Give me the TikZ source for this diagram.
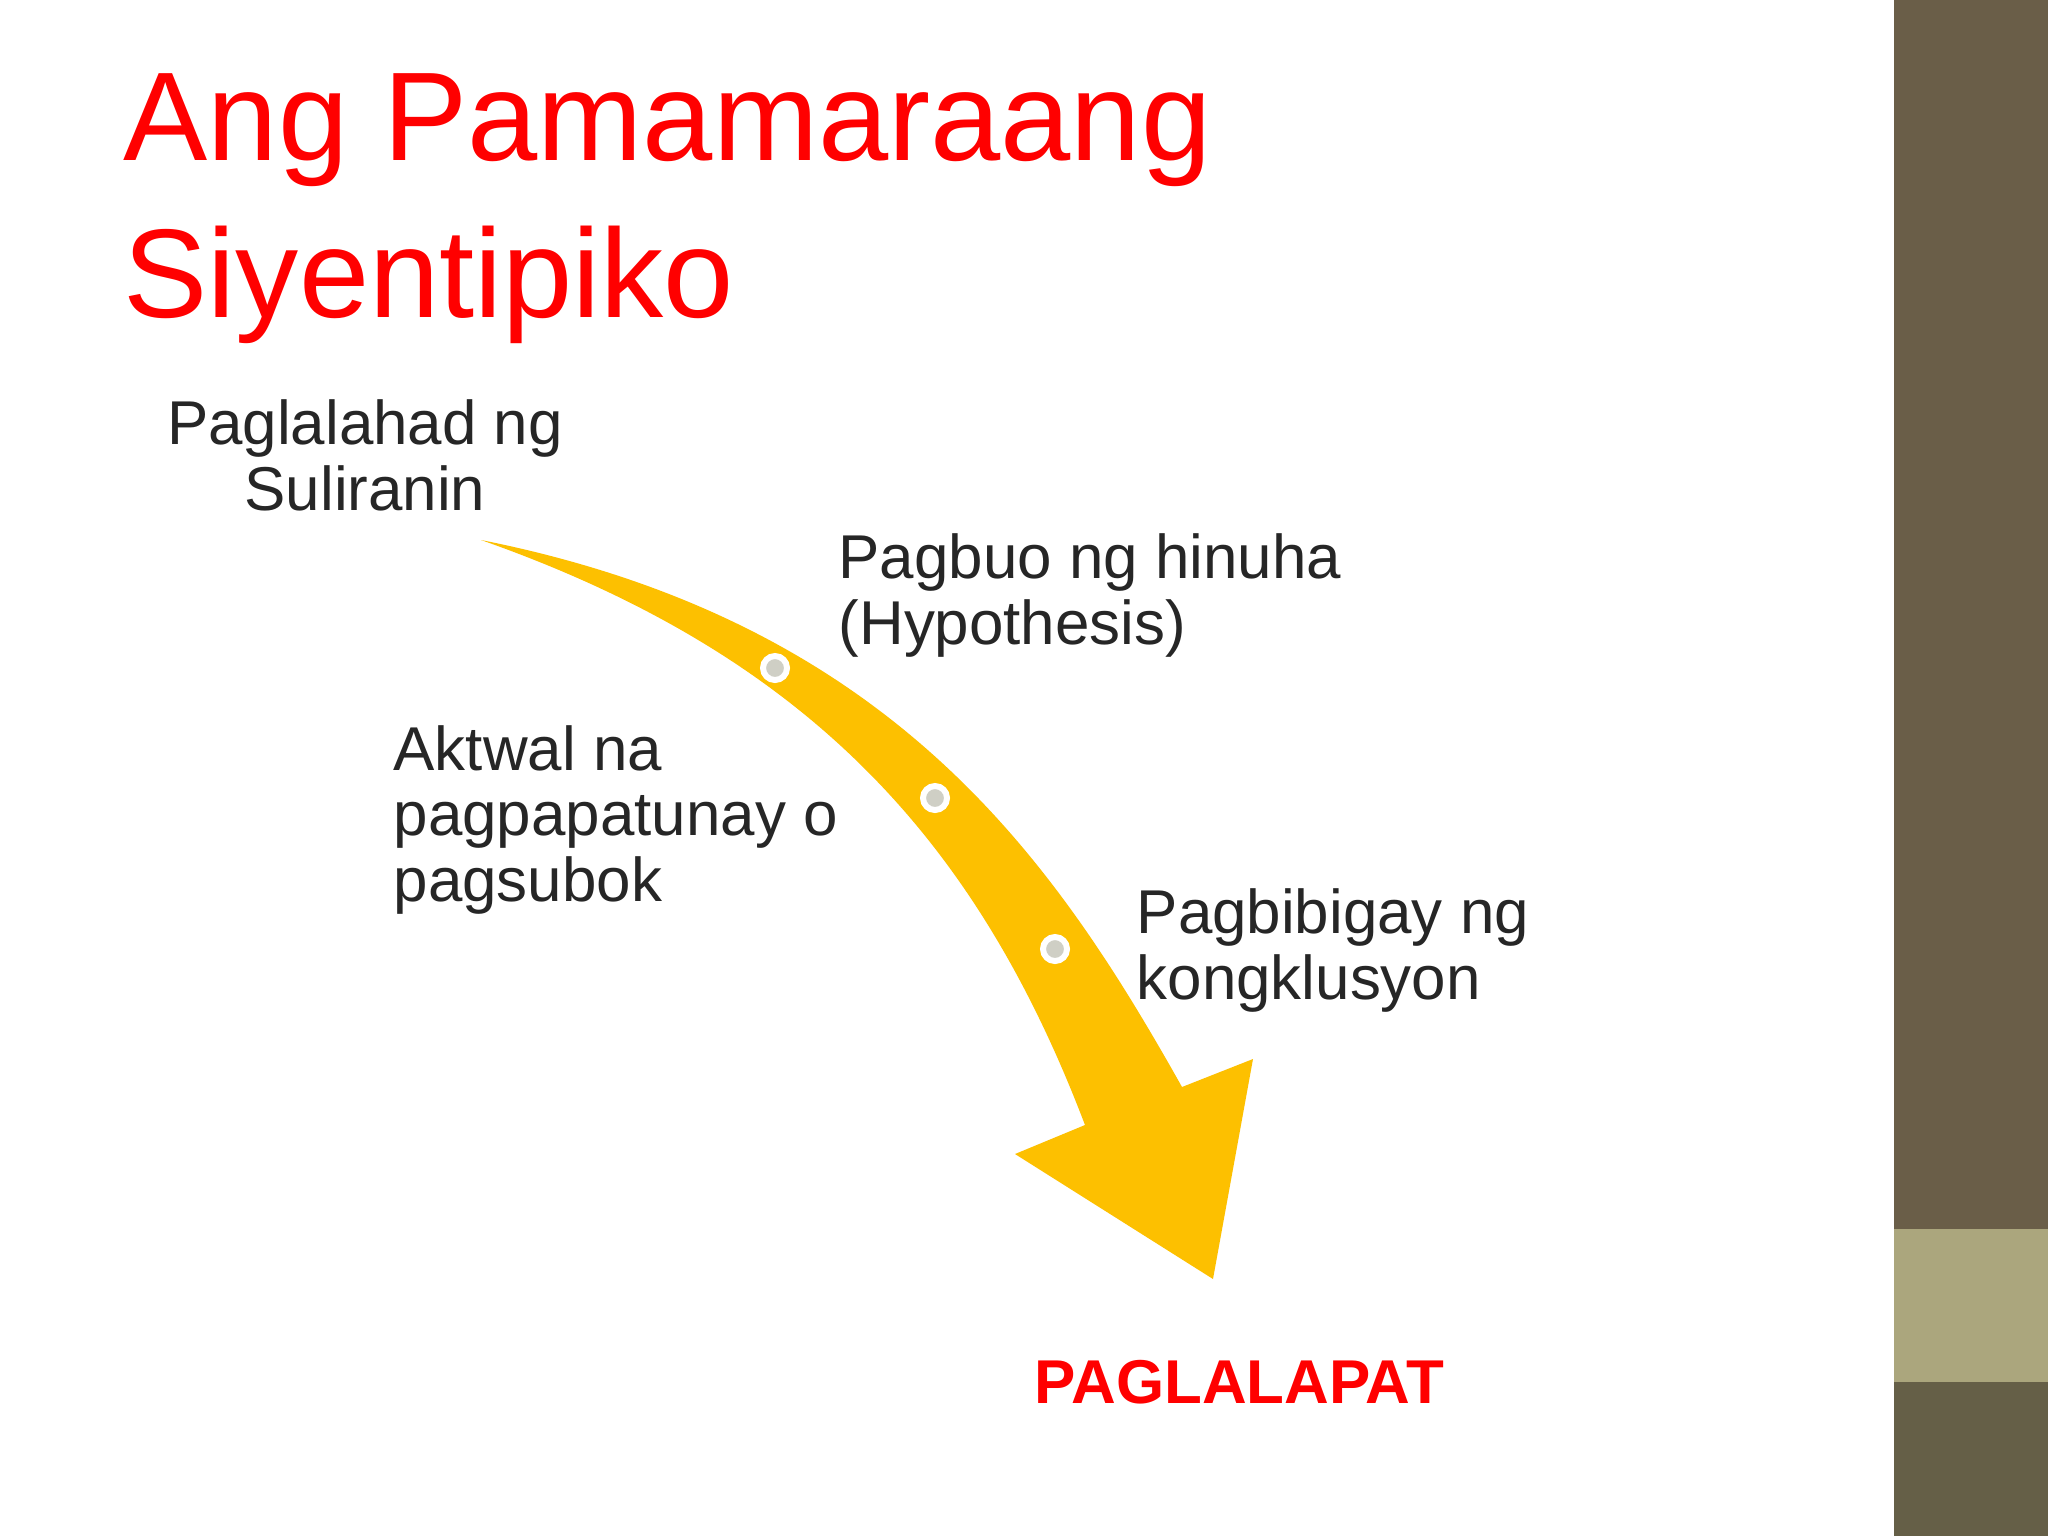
\documentclass[tikz,border=0pt]{standalone}
\usepackage{fontspec}
\setmainfont{Liberation Sans}
\definecolor{titlered}{RGB}{255,0,0}
\definecolor{bodytext}{RGB}{38,38,38}
\definecolor{gold}{RGB}{253,192,0}
\definecolor{dotgray}{RGB}{207,207,197}
\definecolor{barbrown}{RGB}{106,94,72}
\definecolor{barsand}{RGB}{171,166,125}
\definecolor{barolive}{RGB}{101,95,71}

\begin{document}
\begin{tikzpicture}[x=0.01cm,y=-0.01cm,
  titletext/.style={anchor=base west,inner sep=0,text=titlered,align=left,
    font=\fontsize{35.9}{44.5}\selectfont},
  steptext/.style={anchor=base west,inner sep=0,text=bodytext,align=left,
    font=\fontsize{17.6}{18.5}\selectfont},
  stepdot/.style={circle,fill=dotgray,draw=white,line width=1.7pt,
    minimum size=0.24cm,inner sep=0}]
\useasboundingbox (0,0) rectangle (2048,1536);

% page and side bar
\fill[white] (0,0) rectangle (2048,1536);
\fill[barbrown] (1894,0) rectangle (2048,1229);
\fill[barsand] (1894,1229) rectangle (2048,1382);
\fill[barolive] (1894,1382) rectangle (2048,1536);

\node[titletext] (title) at (123,317) {Ang Pamamaraang\\Siyentipiko};

% curved arrow
\coordinate (tail) at (481,540);
\fill[gold] (tail) .. controls (893,622) and (1055,861) .. (1182,1087)
  -- (1253,1059) -- (1213,1279) -- (1015,1154) -- (1085,1125)
  .. controls (978,844) and (811,656) .. (tail) -- cycle;

\foreach \i/\p in {1/{775,668},2/{935,798},3/{1055,949}}
  \node[stepdot] (dot\i) at (\p) {};

% steps (base = last line)
\node[steptext,anchor=base,align=center] (problem) at (365,510) {Paglalahad ng\\Suliranin};
\node[steptext] (hypothesis) at (838,644) {Pagbuo ng hinuha\\(Hypothesis)};
\node[steptext] (testing) at (393,901) {Aktwal na\\pagpapatunay o\\pagsubok};
\node[steptext] (conclusion) at (1136,999) {Pagbibigay ng\\kongklusyon};
\node[anchor=base west,inner sep=0,text=titlered,font=\fontsize{17.6}{18.5}\selectfont\bfseries]
  (application) at (1034,1403) {PAGLALAPAT};

\end{tikzpicture}
\end{document}
